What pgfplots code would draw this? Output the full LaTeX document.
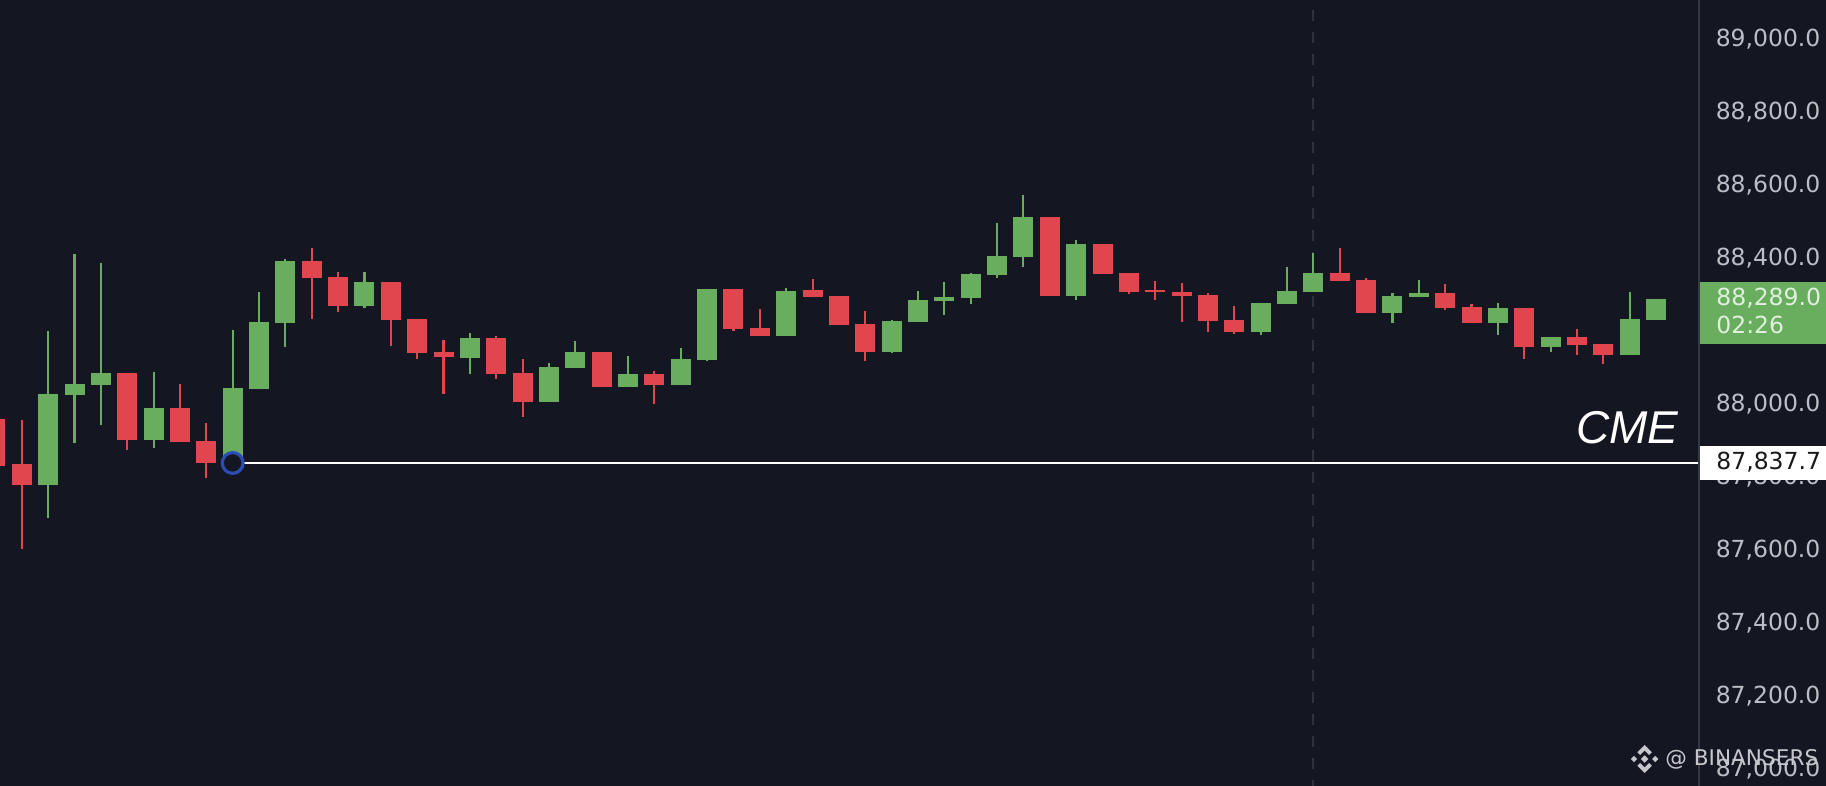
\documentclass[border=0pt]{standalone}
\usepackage{pgfplots}
\usepackage{pgfplotstable}
\pgfplotsset{compat=1.18}
\usepackage{fontspec}
\setmainfont{DejaVu Sans}
\newfontfamily\cmefont{Liberation Sans}
\definecolor{bg}{HTML}{141722}
\definecolor{cgreen}{HTML}{69AD5E}
\definecolor{cred}{HTML}{E1464F}
\definecolor{ticktxt}{HTML}{BCBEC6}
\definecolor{sep}{HTML}{363944}
\definecolor{dashc}{HTML}{30333E}
\definecolor{ring}{HTML}{2B4DB3}
\definecolor{wm}{HTML}{C6C7CD}
\pgfplotstableread{
i bot top low high
1 87774 88024 87685 88196
2 88021 88051 87889 88407
3 88049 88081 87939 88383
5 87898 87985 87876 88084
8 87835 88040 87835 88199
9 88038 88221 88038 88303
10 88218 88388 88153 88394
13 88265 88331 88259 88358
17 88122 88177 88079 88191
20 88002 88098 88002 88109
21 88095 88139 88095 88169
23 88043 88079 88043 88128
25 88049 88120 88049 88150
26 88117 88312 88114 88312
29 88183 88306 88183 88314
33 88139 88224 88136 88227
34 88221 88281 88221 88306
35 88279 88290 88240 88331
36 88287 88353 88270 88355
37 88350 88402 88342 88492
38 88399 88509 88372 88569
40 88292 88435 88281 88446
47 88194 88273 88185 88273
48 88270 88306 88270 88372
49 88303 88355 88303 88410
52 88246 88292 88218 88301
53 88290 88301 88290 88336
56 88218 88259 88185 88273
58 88153 88180 88139 88180
61 88131 88229 88131 88303
62 88227 88284 88227 88284
}\greentable
\pgfplotstableread{
i bot top low high
-1 87827 87955 87827 87955
0 87774 87832 87599 87953
4 87898 88081 87870 88081
6 87892 87985 87892 88051
7 87835 87895 87794 87944
11 88342 88388 88229 88424
12 88265 88344 88249 88358
14 88227 88331 88155 88331
15 88136 88229 88120 88229
16 88125 88139 88024 88172
18 88079 88177 88065 88183
19 88002 88081 87961 88120
22 88043 88139 88043 88139
24 88049 88079 87996 88087
27 88202 88312 88196 88312
28 88183 88205 88183 88257
30 88290 88309 88290 88339
31 88213 88292 88213 88292
32 88139 88216 88114 88251
39 88292 88509 88292 88509
41 88353 88435 88353 88435
42 88303 88355 88298 88355
43 88303 88309 88281 88334
44 88292 88303 88221 88328
45 88224 88295 88194 88301
46 88194 88227 88188 88265
50 88333 88355 88333 88424
51 88246 88336 88246 88342
54 88259 88301 88254 88325
55 88218 88262 88218 88270
57 88153 88259 88120 88259
59 88158 88180 88131 88202
60 88131 88161 88106 88161
}\redtable
\pgfplotsset{
  wick/.style={draw=none, no markers, forget plot, error bars/.cd, y dir=both, y explicit, error mark=none,
    error bar style={line width=1.05pt, draw=#1}},
  body/.style={draw=none, no markers, forget plot, error bars/.cd, y dir=plus, y explicit, error mark=none,
    error bar style={line width=10pt, draw=#1}},
}
\begin{document}
\begin{tikzpicture}[x=1pt,y=1pt]
\path[use as bounding box] (0,0) rectangle (913,393);
\fill[bg] (0,0) rectangle (913,393);
\begin{axis}[
  at={(0pt,0pt)}, anchor=south west,
  scale only axis, width=849.5pt, height=393pt,
  xmin=-0.827, xmax=63.63, ymin=86950, ymax=89103.3,
  axis line style={draw=none},
  xtick=\empty,
  ytick={87000,87200,87400,87600,87800,88000,88200,88400,88600,88800,89000},
  scaled y ticks=false,
  yticklabel pos=right,
  major tick length=0pt,
  tick style={draw=none},
  yticklabel style={anchor=west, xshift=4.85pt, yshift=-0.7pt, text=ticktxt, font=\fontsize{11.75pt}{14pt}\selectfont,
    /pgf/number format/fixed, /pgf/number format/fixed zerofill, /pgf/number format/precision=1,
    /pgf/number format/1000 sep={,}, /pgf/number format/assume math mode=true},
]
\addplot[draw=dashc, line width=1pt, dash pattern=on 5.5pt off 5.5pt, forget plot] coordinates {(49,89076) (49,86950)};
\addplot[wick=cgreen] table[x=i, y=bot, y error plus expr=\thisrow{high}-\thisrow{bot}, y error minus expr=\thisrow{bot}-\thisrow{low}] {\greentable};
\addplot[wick=cred] table[x=i, y=bot, y error plus expr=\thisrow{high}-\thisrow{bot}, y error minus expr=\thisrow{bot}-\thisrow{low}] {\redtable};
\addplot[body=cgreen] table[x=i, y=bot, y error plus expr=\thisrow{top}-\thisrow{bot}] {\greentable};
\addplot[body=cred] table[x=i, y=bot, y error plus expr=\thisrow{top}-\thisrow{bot}] {\redtable};
\addplot[draw=white, line width=1.4pt, forget plot] coordinates {(8,87835) (63.63,87835)};
\addplot[only marks, mark=*, mark size=5.2pt, mark options={draw=ring, fill=bg, line width=1.6pt}, forget plot] coordinates {(8,87835)};
\end{axis}
\draw[sep, line width=1pt] (849.5,0) -- (849.5,393);
\node[anchor=base west, inner sep=0pt, text=white, font=\cmefont\itshape\fontsize{23pt}{26pt}\selectfont] at (788,171.3) {CME};
\fill[cgreen] (850,221) rectangle (913,252);
\node[anchor=west, inner sep=0pt, text=white!80!cgreen, font=\fontsize{11.75pt}{14pt}\selectfont] at (858,244) {88,289.0};
\node[anchor=west, inner sep=0pt, text=white!80!cgreen, font=\fontsize{11.75pt}{14pt}\selectfont] at (858,230.5) {02:26};
\fill[white] (850,153) rectangle (913,170);
\node[anchor=west, inner sep=0pt, text=black!90, font=\fontsize{11.75pt}{14pt}\selectfont] at (858,162) {87,837.7};
% watermark
\begin{scope}[shift={(822.3,13.5)}, wm]
\fill (0,7) -- (3.6,3.4) -- (2.2,2) -- (0,4.2) -- (-2.2,2) -- (-3.6,3.4) -- cycle;
\fill (0,-7) -- (3.6,-3.4) -- (2.2,-2) -- (0,-4.2) -- (-2.2,-2) -- (-3.6,-3.4) -- cycle;
\fill (0,1.9) -- (1.9,0) -- (0,-1.9) -- (-1.9,0) -- cycle;
\fill (-5.3,1.6) -- (-3.7,0) -- (-5.3,-1.6) -- (-6.9,0) -- cycle;
\fill (5.3,1.6) -- (3.7,0) -- (5.3,-1.6) -- (6.9,0) -- cycle;
\end{scope}
\node[anchor=west, inner sep=0pt, text=wm, font=\fontsize{10.8pt}{14pt}\selectfont] at (832.5,13.5) {@ BINANSERS};
\end{tikzpicture}
\end{document}
